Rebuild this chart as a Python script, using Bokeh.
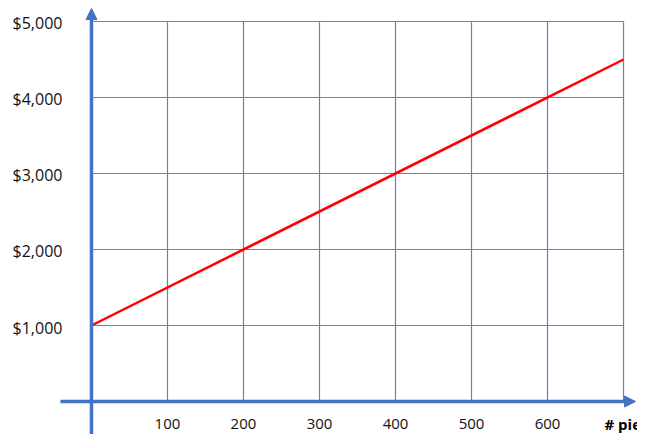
from bokeh.plotting import figure
from bokeh.models import Range1d, Arrow, NormalHead
from bokeh.core.properties import value
from bokeh.embed import file_html
from bokeh.resources import INLINE

# ---- data ----
x_ticks = [100, 200, 300, 400, 500, 600]
x_tick_labels = ["100", "200", "300", "400", "500", "600"]
x_grid = [100, 200, 300, 400, 500, 600, 700]
y_ticks = [1000, 2000, 3000, 4000, 5000]
y_tick_labels = ["$1,000", "$2,000", "$3,000", "$4,000", "$5,000"]
x_title = "# piezas"
cost_x = [0, 700]
cost_y = [1000, 4500]

X_MAX = 700
Y_MAX = 5000

AXIS = "#4472C4"
GRID = "#5F84CE"
FONT = "Open Sans"

p = figure(width=637, height=434, output_backend="svg", toolbar_location=None,
           x_axis_location=None, y_axis_location=None, min_border=0,
           x_range=Range1d(-119.7, 718.4), y_range=Range1d(-434.2, 5276.3))
p.outline_line_color = None
p.xgrid.visible = False
p.ygrid.visible = False
p.background_fill_color = "white"
p.border_fill_color = "white"

# grid (bounded to the data box)
p.segment(x0=x_grid, y0=[0] * len(x_grid), x1=x_grid, y1=[Y_MAX] * len(x_grid),
          color=GRID, line_width=1.2)
p.segment(x0=[0] * len(y_ticks), y0=y_ticks, x1=[X_MAX] * len(y_ticks), y1=y_ticks,
          color=GRID, line_width=1.2)

# cost line
p.line(cost_x, cost_y, line_color="#FF0000", line_width=2.5)

# axes with arrows
p.add_layout(Arrow(x_start=-40.8, y_start=0, x_end=715.8, y_end=0,
                   line_color=AXIS, line_width=3.5,
                   end=NormalHead(size=11, fill_color=AXIS, line_color=AXIS)))
p.add_layout(Arrow(x_start=0, y_start=-434.2, x_end=0, y_end=5171.0,
                   line_color=AXIS, line_width=3.5,
                   end=NormalHead(size=11, fill_color=AXIS, line_color=AXIS)))

# tick labels
p.text(x=[-38.2] * len(y_ticks), y=y_ticks, text=y_tick_labels,
       text_font=value(FONT), text_font_size="16px", text_color="#111111",
       text_align="right", text_baseline="middle", y_offset=2)
p.text(x=x_ticks, y=[0] * len(x_ticks), text=x_tick_labels,
       text_font=value(FONT), text_font_size="15px", text_color="#111111",
       text_align="center", text_baseline="middle", y_offset=22)
p.text(x=[675], y=[0], text=[x_title],
       text_font=value(FONT), text_font_size="15px", text_font_style="bold",
       text_color="#000000", text_align="left", text_baseline="middle", y_offset=22)

open("out.html", "w").write(file_html(p, INLINE))
